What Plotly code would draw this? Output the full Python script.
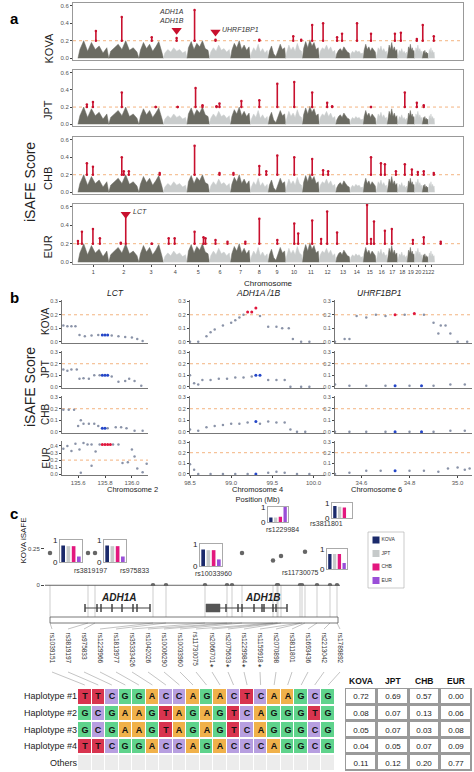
import plotly.graph_objects as go

W, H = 474, 772
FONT = "Liberation Sans, Arial"
DARK, LIGHT, RED = "#6b6b62", "#c9cccc", "#c8102e"
POPS = ["KOVA", "JPT", "CHB", "EUR"]

# ---------------- panel a data ----------------
chrom_len = [249, 243, 198, 191, 181, 171, 159, 145, 141, 136, 135, 134, 115, 107, 103, 90, 83, 78, 59, 63, 48, 51]
bg_heights = [
    [0.10, 0.20, 0.08, 0.18, 0.10, 0.14, 0.06, 0.12], [0.08, 0.12, 0.16, 0.10, 0.20, 0.09, 0.12, 0.07],
    [0.09, 0.18, 0.11, 0.16, 0.08, 0.13, 0.19, 0.07], [0.06, 0.10, 0.07, 0.12, 0.08, 0.10, 0.06, 0.08],
    [0.12, 0.19, 0.10, 0.17, 0.13, 0.20, 0.11, 0.09], [0.07, 0.12, 0.08, 0.15, 0.09, 0.11, 0.07, 0.10],
    [0.09, 0.17, 0.12, 0.20, 0.10, 0.15, 0.09, 0.13], [0.06, 0.12, 0.08, 0.16, 0.07, 0.11, 0.06, 0.09],
    [0.08, 0.14, 0.05, 0.02, 0.09, 0.16, 0.10, 0.12], [0.07, 0.15, 0.09, 0.13, 0.08, 0.17, 0.10, 0.08],
    [0.11, 0.19, 0.12, 0.21, 0.14, 0.18, 0.10, 0.12], [0.08, 0.12, 0.10, 0.15, 0.09, 0.13, 0.07, 0.09],
    [0.05, 0.09, 0.11, 0.08, 0.13, 0.10, 0.07, 0.06], [0.05, 0.08, 0.06, 0.09, 0.07, 0.08, 0.05, 0.06],
    [0.09, 0.16, 0.10, 0.13, 0.08, 0.12, 0.09, 0.07], [0.06, 0.12, 0.09, 0.14, 0.08, 0.11, 0.07, 0.08],
    [0.08, 0.15, 0.10, 0.18, 0.09, 0.13, 0.08, 0.10], [0.05, 0.09, 0.07, 0.11, 0.06, 0.08, 0.05, 0.07],
    [0.08, 0.13, 0.10, 0.16, 0.09, 0.12, 0.08, 0.09], [0.07, 0.12, 0.09, 0.15, 0.08, 0.11, 0.07, 0.08],
    [0.05, 0.08, 0.06, 0.09, 0.05, 0.07, 0.05, 0.06], [0.06, 0.10, 0.07, 0.12, 0.06, 0.09, 0.06, 0.07],
]
hit_pos = {
    "KOVA": [145, 354, 596, 797, 942, 1111, 1465, 1739, 1803, 1892, 1980, 2093, 2133, 2254, 2367, 2560, 2608, 2737, 2785, 2874],
    "JPT": [121, 72, 354, 628, 805, 950, 1006, 1119, 1143, 1320, 1465, 1610, 1747, 1892, 2013, 2053, 2367, 2640, 2737, 2793],
    "CHB": [72, 121, 354, 370, 411, 660, 942, 1143, 1256, 1465, 1521, 1610, 1747, 1892, 1980, 2021, 2367, 2447, 2479, 2568, 2640, 2697, 2745, 2793, 2874],
    "EUR": [0, 32, 121, 177, 346, 386, 596, 733, 781, 942, 1014, 1030, 1111, 1208, 1352, 1465, 1610, 1747, 1779, 1892, 1964, 2013, 2093, 2335, 2367, 2391, 2479, 2535, 2705, 2793, 2930],
}
hit_top = {
    "KOVA": [0.31, 0.47, 0.24, 0.23, 0.55, 0.21, 0.21, 0.25, 0.21, 0.38, 0.40, 0.24, 0.28, 0.40, 0.28, 0.28, 0.29, 0.22, 0.38, 0.25],
    "JPT": [0.26, 0.23, 0.37, 0.20, 0.20, 0.42, 0.22, 0.21, 0.24, 0.27, 0.28, 0.47, 0.49, 0.37, 0.25, 0.21, 0.20, 0.37, 0.25, 0.22],
    "CHB": [0.33, 0.29, 0.40, 0.24, 0.24, 0.22, 0.53, 0.22, 0.22, 0.30, 0.24, 0.42, 0.40, 0.38, 0.25, 0.24, 0.40, 0.33, 0.32, 0.24, 0.32, 0.26, 0.23, 0.24, 0.22],
    "EUR": [0.23, 0.33, 0.36, 0.26, 0.21, 0.52, 0.20, 0.26, 0.26, 0.33, 0.27, 0.26, 0.24, 0.22, 0.22, 0.47, 0.24, 0.42, 0.31, 0.45, 0.25, 0.55, 0.32, 0.62, 0.25, 0.44, 0.34, 0.36, 0.24, 0.27, 0.22],
}
markers_a = [("KOVA", 797, 0.32, "<i>ADH1A</i><br><i>ADH1B</i>", "top"),
             ("KOVA", 1111, 0.30, "<i>UHRF1BP1</i>", "right"),
             ("EUR", 386, 0.52, "<i>LCT</i>", "right")]

# ---------------- panel b data ----------------
b_cols = ["LCT", "ADH1A /1B", "UHRF1BP1"]
b_xrange = [[135.48, 136.12], [98.5, 100.14], [34.49, 35.06]]
b_ticks = [[135.6, 135.8, 136.0], [98.5, 99.0, 99.5, 100.0], [34.6, 34.8, 35.0]]
b_ticktext = [["135.6", "135.8", "136.0"], ["98.5", "99.0", "99.5", "100.0"], ["34.6", "34.8", "35.0"]]
b_xtitles = ["Chromosome 2", "Chromosome 4<br>Position (Mb)", "Chromosome 6"]
b_pts = {
    ("KOVA", 0): [(135.49, .12), (135.52, .115), (135.55, .115), (135.58, .115), (135.61, .05), (135.65, .04), (135.70, .045), (135.75, .05), (135.85, .045), (135.9, .04), (135.95, .035), (136.0, .03), (136.04, .02), (136.08, .005)],
    ("JPT", 0): [(135.49, .15), (135.52, .14), (135.55, .15), (135.59, .15), (135.61, .07), (135.64, .075), (135.68, .07), (135.72, .1), (135.76, .1), (135.85, .09), (135.9, .045), (135.95, .05), (135.98, .07), (136.02, .05), (136.07, .01)],
    ("CHB", 0): [(135.49, .19), (135.53, .19), (135.57, .19), (135.60, .05), (135.62, .10), (135.64, .07), (135.68, .07), (135.72, .07), (135.75, .05), (135.82, .03), (135.88, .04), (135.92, .04), (135.96, .03), (136.02, .01), (136.08, .01)],
    ("EUR", 0): [(135.49, .36), (135.52, .40), (135.55, .33), (135.58, .43), (135.61, .35), (135.62, .02), (135.64, .44), (135.67, .42), (135.70, .42), (135.73, .32), (135.70, .12), (135.76, .42), (135.86, .42), (135.90, .42), (135.93, .16), (135.97, .17), (136.0, .35), (136.02, .25), (136.04, .08), (136.08, .03), (136.11, .15)],
    ("KOVA", 1): [(98.5, .0), (98.6, .0), (98.7, .04), (98.75, .07), (98.8, .09), (98.9, .12), (99.0, .14), (99.05, .16), (99.1, .18), (99.15, .20), (99.35, .19), (99.45, .11), (99.55, .11), (99.62, .10), (99.7, .10), (99.75, .02), (99.85, .0), (99.95, .0)],
    ("JPT", 1): [(98.5, .10), (98.55, .03), (98.6, .02), (98.65, .06), (98.75, .06), (98.85, .07), (98.95, .07), (99.05, .08), (99.15, .08), (99.25, .09), (99.45, .06), (99.55, .06), (99.65, .06), (99.72, .0), (99.85, .0), (99.95, .0)],
    ("CHB", 1): [(98.5, .02), (98.6, .01), (98.7, .04), (98.8, .05), (98.9, .06), (99.0, .07), (99.1, .07), (99.2, .08), (99.35, .07), (99.45, .09), (99.55, .08), (99.65, .08), (99.72, .02), (99.8, .0), (99.9, .0)],
    ("EUR", 1): [(98.5, .09), (98.55, .04), (98.6, .0), (98.75, .0), (98.9, .0), (99.05, .0), (99.2, .0), (99.45, .01), (99.55, .02), (99.65, .01), (99.8, .0), (99.95, .0)],
    ("KOVA", 2): [(34.49, .0), (34.53, .02), (34.55, .02), (34.58, .19), (34.62, .18), (34.66, .20), (34.70, .19), (34.78, .20), (34.86, .20), (34.9, .14), (34.93, .12), (34.95, .12), (34.92, .06), (34.97, .06), (35.0, .0), (35.04, .0)],
    ("JPT", 2): [(34.49, .02), (34.55, .01), (34.62, .01), (34.70, .01), (34.80, .01), (34.90, .01), (34.97, .02), (35.03, .02)],
    ("CHB", 2): [(34.49, .0), (34.55, .0), (34.62, .0), (34.70, .0), (34.80, .0), (34.90, .0), (34.97, .01), (35.03, .01)],
    ("EUR", 2): [(34.49, .0), (34.55, .01), (34.62, .03), (34.68, .03), (34.80, .03), (34.86, .03), (34.92, .02), (34.96, .05), (35.0, .06), (35.03, .04), (35.05, .05)],
}
b_hl = {
    ("KOVA", 0): ([(135.78, .05), (135.80, .05), (135.82, .05)], "blue"),
    ("JPT", 0): ([(135.78, .10), (135.80, .10), (135.82, .10)], "blue"),
    ("CHB", 0): ([(135.78, .03), (135.80, .03)], "blue"),
    ("EUR", 0): ([(135.78, .42), (135.80, .42), (135.82, .42), (135.84, .42)], "red"),
    ("KOVA", 1): ([(99.2, .22), (99.25, .22), (99.3, .25)], "red"),
    ("JPT", 1): ([(99.3, .10), (99.35, .10)], "blue"),
    ("CHB", 1): ([(99.3, .09)], "blue"),
    ("EUR", 1): ([(99.3, .0)], "blue"),
    ("KOVA", 2): ([(34.74, .20), (34.82, .21)], "red"),
    ("JPT", 2): ([(34.74, .01), (34.85, .01)], "blue"),
    ("CHB", 2): ([(34.74, .0), (34.85, .0)], "blue"),
    ("EUR", 2): ([(34.74, .03)], "blue"),
}

# ---------------- panel c data ----------------
snp_names = ["rs1039151", "rs3819197", "rs975833", "rs1229966", "rs1813977", "rs35333426", "rs1042026",
             "rs10006290", "rs10033960", "rs11730075", "rs2066701", "rs2075633", "rs1229984", "rs1159918",
             "rs2070898", "rs3811801", "rs1693436", "rs2213042", "rs1789892"]
starred = ["rs2066701", "rs2075633", "rs1229984", "rs1159918"]
snp_pos = [50, 88, 95, 153, 166, 205, 227, 232, 242, 273, 277, 278, 281, 300, 302, 305, 317, 330, 337]
kova_isafe = [0.22, 0.22, 0.22, 0, 0, 0, 0, 0, 0.22, 0.17, 0, 0, 0.20, 0, 0, 0.23, 0, 0, 0]
haplotypes = ["Haplotype #1", "Haplotype #2", "Haplotype #3", "Haplotype #4", "Others"]
hap_seq = ["TTCGGACCAGACTCAAGCG", "GCGAAGTAGAGTCAGGGTG", "GCGAAGTAGAGTCAGGGCG", "TTCGGACCAGACCCAGGCG", "                   "]
freq = [[0.72, 0.69, 0.57, 0.00], [0.08, 0.07, 0.13, 0.06], [0.05, 0.07, 0.03, 0.08],
        [0.04, 0.05, 0.07, 0.09], [0.11, 0.12, 0.20, 0.77]]
inset_snps = ["rs3819197", "rs975833", "rs10033960", "rs1229984", "rs3811801", "rs11730075"]
inset_vals = [[0.75, 0.72, 0.72, 0.25], [0.75, 0.72, 0.72, 0.25], [0.75, 0.72, 0.72, 0.3],
              [0.3, 0.3, 0.35, 1.0], [0.8, 0.75, 0.7, 0.0], [0.75, 0.75, 0.75, 0.3]]
inset_box = [(60, 82, 540, 562), (104, 126, 540, 562), (200, 222, 544, 566), (268, 288, 507, 522), (332, 352, 503, 518), (327, 347, 549, 569)]
inset_lab = [(72, 576), (118, 576), (213, 579), (282, 535), (345, 529), (300, 578)]
pop_colors = ["#1b2a6b", "#c6caca", "#e3177e", "#9a4fd8"]
gene_a = [85, 97, 101, 112, 122, 133, 137, 150]
gene_b = [226, 238, 242, 254, 262, 264, 273, 276, 287]

# ---------------- build ----------------
fig = go.Figure()
cnt = [0]
def cl(v): return min(1.0, max(0.0, v))
def pxd(a, b): return [cl(a / W), cl(b / W)]
def pyd(a, b): return [cl(1 - b / H), cl(1 - a / H)]
def axes(xd, yd, xkw, ykw):
    cnt[0] += 1
    s = "" if cnt[0] == 1 else str(cnt[0])
    xkw = dict(xkw); ykw = dict(ykw)
    xkw.setdefault("automargin", False); ykw.setdefault("automargin", False)
    fig.update_layout(**{"xaxis" + s: dict(domain=xd, anchor="y" + s, **xkw),
                         "yaxis" + s: dict(domain=yd, anchor="x" + s, **ykw)})
    return "x" + s, "y" + s

ann = []
def txt(x, y, t, size=9, **kw):
    d = dict(x=x / W, y=1 - y / H, xref="paper", yref="paper", text=t, showarrow=False,
             font=dict(size=size, family=FONT, color=kw.pop("color", "#222")))
    d.update(kw)
    ann.append(d)

tickf = dict(size=6, family=FONT, color="#555")
# panel a
a_rows = [(3, 60), (70, 126), (137, 194), (204, 264)]
offs = [0]
for L in chrom_len: offs.append(offs[-1] + L)
centers = [offs[i] + chrom_len[i] / 2 for i in range(22)]
for pi, pop in enumerate(POPS):
    last = pi == 3
    xa, ya = axes(pxd(73, 463), pyd(*a_rows[pi]),
                  dict(range=[-40, 3110], showline=True, mirror=True, linecolor="#999", showgrid=False, zeroline=False,
                       tickvals=centers, ticktext=[str(i + 1) for i in range(22)], showticklabels=last, tickangle=0,
                       ticks="outside" if last else "", ticklen=2, tickfont=dict(size=5.5, family=FONT, color="#444")),
                  dict(range=[-0.02, 0.63], tickvals=[0, 0.2, 0.4, 0.6], ticktext=["0.0", "0.2", "0.4", "0.6"],
                       showline=True, mirror=True, linecolor="#999", showgrid=False, zeroline=False,
                       ticks="outside", ticklen=2, tickfont=tickf))
    for c in range(22):
        hs = bg_heights[c]
        n = len(hs)
        xs = [offs[c]] + [offs[c] + chrom_len[c] * (k + 0.5) / n for k in range(n)] + [offs[c + 1]]
        ys = [0] + hs + [0]
        col = DARK if c % 2 == 0 else LIGHT
        if c in (0, 1): col = DARK
        fig.add_trace(go.Scatter(x=xs, y=ys, fill="tozeroy", mode="lines", line=dict(color=col, width=0.5),
                                 fillcolor=col, xaxis=xa, yaxis=ya, showlegend=False, hoverinfo="skip"))
    fig.add_trace(go.Scatter(x=[-40, 3110], y=[0.2, 0.2], mode="lines", line=dict(color="#f0a060", width=0.8, dash="dot"),
                             xaxis=xa, yaxis=ya, showlegend=False))
    hx, hy = [], []
    for g, t in zip(hit_pos[pop], hit_top[pop]):
        hx += [g, g, None]; hy += [0.2, t, None]
    fig.add_trace(go.Scatter(x=hx, y=hy, mode="lines+markers", line=dict(color=RED, width=1.6),
                             marker=dict(size=2.5, color=RED), xaxis=xa, yaxis=ya, showlegend=False))
    for (p, g, v, lab, pos) in markers_a:
        if p == pop:
            fig.add_trace(go.Scatter(x=[g], y=[v], mode="markers", marker=dict(symbol="triangle-down", size=9, color=RED),
                                     xaxis=xa, yaxis=ya, showlegend=False))
            if pos == "top":
                ann.append(dict(x=g - 40, y=v + 0.05, xref=xa, yref=ya, text=lab, showarrow=False, yanchor="bottom",
                                font=dict(size=7, family=FONT, color="#333")))
            else:
                ann.append(dict(x=g + 40, y=v + 0.03, xref=xa, yref=ya, text=lab, showarrow=False, xanchor="left",
                                font=dict(size=7, family=FONT, color="#333")))
    txt(40, sum(a_rows[pi]) / 2, pop, 11, textangle=-90)
txt(268, 283, "Chromosome", 8)
txt(20, 140, "iSAFE Score", 14, textangle=-90)
txt(8, 8, "<b>a</b>", 15, color="#000")

# panel b
b_rows = [(300, 343), (351, 388), (396, 433), (441, 475)]
b_xd = [(62, 148), (190, 325), (335, 472)]
for ri, pop in enumerate(POPS):
    for ci in range(3):
        last = ri == 3
        eur_lct = (pop == "EUR" and ci == 0)
        yr = [-0.01, 0.47] if eur_lct else [-0.01, 0.31]
        yt = [0, 0.1, 0.2, 0.3, 0.4] if eur_lct else [0, 0.1, 0.2, 0.3]
        xa, ya = axes(pxd(*b_xd[ci]), pyd(*b_rows[ri]),
                      dict(range=b_xrange[ci], showline=True, linecolor="#777", showgrid=False, zeroline=False,
                           tickvals=b_ticks[ci], ticktext=b_ticktext[ci], showticklabels=last, tickangle=0,
                           ticks="outside" if last else "", ticklen=2, tickfont=tickf),
                      dict(range=yr, tickvals=yt, ticktext=["%.1f" % v for v in yt], showline=True, linecolor="#777",
                           showgrid=False, zeroline=False, ticks="outside", ticklen=2, tickfont=dict(size=5.5, family=FONT, color="#555")))
        fig.add_trace(go.Scatter(x=list(b_xrange[ci]), y=[0.2, 0.2], mode="lines",
                                 line=dict(color="#f0a060", width=0.8, dash="dot"), xaxis=xa, yaxis=ya, showlegend=False))
        pts = b_pts[(pop, ci)]
        fig.add_trace(go.Scatter(x=[p[0] for p in pts], y=[p[1] for p in pts], mode="markers",
                                 marker=dict(size=2.5, color="#8a93a8"),
                                 xaxis=xa, yaxis=ya, showlegend=False))
        hl, hc = b_hl[(pop, ci)]
        fig.add_trace(go.Scatter(x=[p[0] for p in hl], y=[p[1] for p in hl], mode="markers",
                                 marker=dict(size=3, color="#e0153b" if hc == "red" else "#2446c8"),
                                 xaxis=xa, yaxis=ya, showlegend=False))
        if ri == 0:
            txt((b_xd[ci][0] + b_xd[ci][1]) / 2, 293, "<i>%s</i>" % b_cols[ci], 8.5)
        if last:
            txt((b_xd[ci][0] + b_xd[ci][1]) / 2, 494 if ci == 1 else 489, b_xtitles[ci], 7.5)
    txt(38, sum(b_rows[ri]) / 2, pop, 10, textangle=-90)
txt(20, 387, "iSAFE Score", 14, textangle=-90)
txt(8, 297, "<b>b</b>", 15, color="#000")
txt(8, 524, "<b>c</b>", 15, color="#000")

# panel c: overlay pixel axis
xo, yo = axes([0, 1], [0, 1], dict(range=[0, W], visible=False, fixedrange=True),
              dict(range=[H, 0], visible=False, fixedrange=True))
def line(xs, ys, col="#777", w=0.6):
    fig.add_trace(go.Scatter(x=xs, y=ys, mode="lines", line=dict(color=col, width=w), xaxis=xo, yaxis=yo,
                             showlegend=False, hoverinfo="skip"))
lab_x = [52 + 16 * i for i in range(len(snp_names))]
col_w = (335 - 78) / len(snp_names)
col_x = [78 + col_w * (i + 0.5) for i in range(len(snp_names))]
vx, vy, cx, cy = [], [], [], []
for i, p in enumerate(snp_pos):
    vx += [p, p, None]; vy += [585, 617, None]
    cx += [p, lab_x[i], None]; cy += [623, 629, None]
    cx += [lab_x[i], col_x[i], None]; cy += [672, 685, None]
line(vx, vy, "#999", 0.5)
line(cx, cy, "#888", 0.5)
line([50, 338, 338, 50, 50], [617, 617, 623, 623, 617], "#555", 0.8)
line([gene_a[0], gene_a[-1]], [608, 608], "#444", 1.2)
line([gene_b[0] - 13, gene_b[-1]], [608, 608], "#444", 1.2)
gx, gy = [], []
for g in gene_a + gene_b:
    gx += [g, g, None]; gy += [604, 612, None]
line(gx, gy, "#444", 1.5)
fig.add_trace(go.Scatter(x=[206, 220, 220, 206, 206], y=[604, 604, 612, 612, 604], fill="toself", fillcolor="#555",
                         mode="lines", line=dict(color="#555", width=0.5), xaxis=xo, yaxis=yo, showlegend=False))
ann.append(dict(x=118, y=597, xref=xo, yref=yo, text="<b><i>ADH1A</i></b>", showarrow=False, font=dict(size=10, family=FONT, color="#222")))
ann.append(dict(x=262, y=597, xref=xo, yref=yo, text="<b><i>ADH1B</i></b>", showarrow=False, font=dict(size=10, family=FONT, color="#222")))
for i, n in enumerate(snp_names):
    ann.append(dict(x=lab_x[i], y=630, xref=xo, yref=yo, text=n, textangle=90, showarrow=False, yanchor="top",
                    font=dict(size=6.5, family=FONT, color="#333")))
    if n in starred:
        ann.append(dict(x=lab_x[i], y=667, xref=xo, yref=yo, text="*", showarrow=False, font=dict(size=9, color="#222")))
for k, pop in enumerate(POPS):
    fig.add_trace(go.Scatter(x=[376], y=[540 + 13.5 * k], mode="markers+text", text=[pop], textposition="middle right",
                             textfont=dict(size=5, family=FONT, color="#333"),
                             marker=dict(symbol="square", size=7, color=pop_colors[k]), xaxis=xo, yaxis=yo, showlegend=False))
line([368, 404, 404, 368, 368], [532, 532, 588, 588, 532], "#aaa", 0.6)

xl, yl = axes(pxd(45, 340), pyd(548, 586),
              dict(range=[45, 340], visible=False),
              dict(range=[-0.005, 0.255], tickvals=[0, 0.25], ticktext=["0", "0.25"], showgrid=False, zeroline=False,
                   showline=False, ticks="outside", ticklen=3, tickfont=dict(size=6, family=FONT, color="#444")))
fig.add_trace(go.Scatter(x=[45, 340], y=[0, 0], mode="lines", line=dict(color="#666", width=1), xaxis=xl, yaxis=yl, showlegend=False))
fig.add_trace(go.Scatter(x=snp_pos, y=kova_isafe, mode="markers", marker=dict(size=4.5, color="#666"), xaxis=xl, yaxis=yl, showlegend=False))
txt(16, 566, "KOVA iSAFE", 8, textangle=-90)

for k, s in enumerate(inset_snps):
    x0, x1, y0, y1 = inset_box[k]
    xa, ya = axes(pxd(x0, x1), pyd(y0, y1),
                  dict(range=[-0.6, 3.6], showticklabels=False, ticks="", showline=True, mirror=True, linecolor="#aaa", showgrid=False, zeroline=False),
                  dict(range=[0, 1], tickvals=[0, 1], ticktext=["0", "1"], showline=True, mirror=True, linecolor="#aaa",
                       showgrid=False, zeroline=False, ticks="", tickfont=dict(size=8, family=FONT, color="#222")))
    fig.add_trace(go.Bar(x=[0, 1, 2, 3], y=inset_vals[k], marker=dict(color=pop_colors, line=dict(width=0)), width=0.7,
                         xaxis=xa, yaxis=ya, showlegend=False))
    txt(inset_lab[k][0], inset_lab[k][1], s, 7, color="#333")

base_code = {"A": 0, "C": 1, "G": 2, "T": 3, " ": 4}
z = [[base_code[ch] for ch in seq] for seq in hap_seq]
tx = [[ch for ch in seq] for seq in hap_seq]
xh, yh = axes(pxd(78, 335), pyd(688, 771),
              dict(range=[-0.5, len(snp_names) - 0.5], visible=False),
              dict(range=[4.5, -0.5], tickvals=list(range(5)), ticktext=haplotypes, showgrid=False, zeroline=False,
                   ticks="", tickfont=dict(size=9, family=FONT, color="#222")))
cs = [[0, "#f0b14a"], [0.2, "#f0b14a"], [0.2, "#b79fe0"], [0.4, "#b79fe0"], [0.4, "#5fd38c"], [0.6, "#5fd38c"],
      [0.6, "#d8344f"], [0.8, "#d8344f"], [0.8, "#ececec"], [1, "#ececec"]]
fig.add_trace(go.Heatmap(z=z, text=tx, texttemplate="<b>%{text}</b>", textfont=dict(size=9, family=FONT, color="#111"),
                         colorscale=cs, zmin=-0.5, zmax=4.5, showscale=False, xgap=1, ygap=2, xaxis=xh, yaxis=yh, hoverinfo="skip"))
xt, yt_ = axes(pxd(345, 472), pyd(688, 771),
               dict(range=[-0.5, 3.5], visible=False), dict(range=[4.5, -0.5], visible=False))
fig.add_trace(go.Heatmap(z=[[0] * 4 for _ in freq], text=[["%.2f" % v for v in r] for r in freq], texttemplate="%{text}",
                         textfont=dict(size=8, family=FONT, color="#222"), colorscale=[[0, "#ffffff"], [1, "#ffffff"]],
                         showscale=False, xgap=3, ygap=3, xaxis=xt, yaxis=yt_, hoverinfo="skip"))
for k, pop in enumerate(POPS):
    ann.append(dict(x=k, y=-0.5, xref=xt, yref=yt_, text="<b>%s</b>" % pop, showarrow=False, yanchor="bottom",
                    font=dict(size=8.5, family=FONT, color="#111")))

shapes = [dict(type="rect", xref="paper", yref="paper", x0=345 / W, x1=472 / W, y0=1 - 771 / H, y1=1 - 688 / H,
               fillcolor="#9a9a9a", line=dict(width=0), layer="below")]
fig.update_layout(width=W, height=H, margin=dict(l=0, r=0, t=0, b=0), paper_bgcolor="white", plot_bgcolor="rgba(0,0,0,0)",
                  annotations=ann, shapes=shapes, font=dict(family=FONT), bargap=0.2)
fig.write_html("out.html", config={"displayModeBar": False},
               post_script="document.body.style.margin='0px';document.body.style.overflow='hidden';")
